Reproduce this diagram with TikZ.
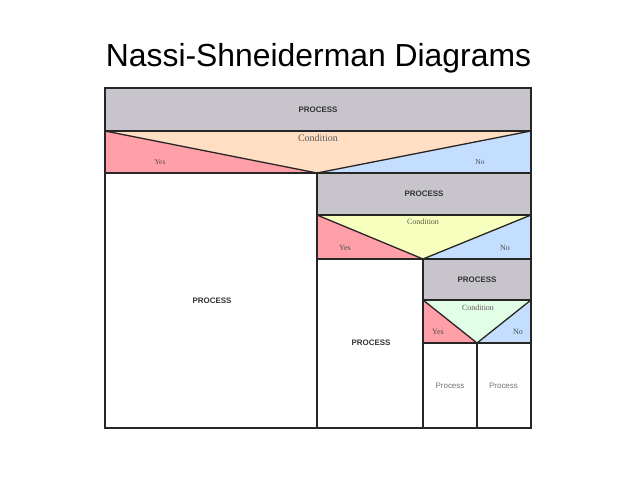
\documentclass[tikz,border=0pt]{standalone}
\usepackage{fontspec}
\setmainfont{Liberation Serif}
\setsansfont{Liberation Sans}
\definecolor{procgray}{RGB}{200,196,204}
\definecolor{yesred}{RGB}{255,160,168}
\definecolor{nob}{RGB}{196,222,255}
\definecolor{peach}{RGB}{255,222,196}
\definecolor{pyellow}{RGB}{246,255,190}
\definecolor{pgreen}{RGB}{224,255,230}
\begin{document}
\begin{tikzpicture}[x=1bp,y=-1bp,
  box/.style={draw=black!85,line width=1.3bp},
  ptext/.style={font=\sffamily\bfseries\fontsize{8}{9}\selectfont,text=black!80},
  ctext/.style={font=\rmfamily\fontsize{8}{9}\selectfont,text=black!65},
  yntext/.style={font=\rmfamily\fontsize{7.5}{9}\selectfont,text=black!70},
  lptext/.style={font=\sffamily\fontsize{8}{9}\selectfont,text=black!55}]
\useasboundingbox (0,0) rectangle (638,479);
\node[font=\sffamily\fontsize{32}{36}\selectfont,anchor=base] (title) at (318.5,67) {Nassi-Shneiderman Diagrams};
% level 1
\filldraw[box,fill=procgray] (105,88) rectangle (531,131);
\fill[peach] (105,131) -- (531,131) -- (317,173) -- cycle;
\fill[yesred] (105,131) -- (317,173) -- (105,173) -- cycle;
\fill[nob] (531,131) -- (317,173) -- (531,173) -- cycle;
\draw[box] (105,131) rectangle (531,173);
\draw[box] (105,131) -- (317,173) -- (531,131);
\draw[box] (105,173) rectangle (317,428);
% level 2
\filldraw[box,fill=procgray] (317,173) rectangle (531,215);
\fill[pyellow] (317,215) -- (531,215) -- (423,259) -- cycle;
\fill[yesred] (317,215) -- (423,259) -- (317,259) -- cycle;
\fill[nob] (531,215) -- (423,259) -- (531,259) -- cycle;
\draw[box] (317,215) rectangle (531,259);
\draw[box] (317,215) -- (423,259) -- (531,215);
\draw[box] (317,259) rectangle (423,428);
% level 3
\filldraw[box,fill=procgray] (423,259) rectangle (531,300);
\fill[pgreen] (423,300) -- (531,300) -- (477,343) -- cycle;
\fill[yesred] (423,300) -- (477,343) -- (423,343) -- cycle;
\fill[nob] (531,300) -- (477,343) -- (531,343) -- cycle;
\draw[box] (423,300) rectangle (531,343);
\draw[box] (423,300) -- (477,343) -- (531,300);
\draw[box] (423,343) rectangle (477,428);
\draw[box] (477,343) rectangle (531,428);
% labels
\node[ptext] (p1) at (318,109.5) {PROCESS};
\node[ctext,font=\rmfamily\fontsize{10}{11}\selectfont] (c1) at (318,138.5) {Condition};
\node[yntext] (y1) at (160,162) {Yes};
\node[yntext] (n1) at (480,162) {No};
\node[ptext] (p2) at (424,194) {PROCESS};
\node[ctext] (c2) at (423,222) {Condition};
\node[yntext,font=\rmfamily\fontsize{8}{9}\selectfont] (y2) at (345,248) {Yes};
\node[yntext,font=\rmfamily\fontsize{8}{9}\selectfont] (n2) at (505,248) {No};
\node[ptext] (p3) at (477,279.5) {PROCESS};
\node[ctext] (c3) at (478,308) {Condition};
\node[yntext,font=\rmfamily\fontsize{8}{9}\selectfont] (y3) at (438,332) {Yes};
\node[yntext,font=\rmfamily\fontsize{8}{9}\selectfont] (n3) at (518,332) {No};
\node[ptext] (p4) at (212,300.5) {PROCESS};
\node[ptext] (p5) at (371,343) {PROCESS};
\node[lptext] (l1) at (450,386) {Process};
\node[lptext] (l2) at (503.5,386) {Process};
\end{tikzpicture}
\end{document}
